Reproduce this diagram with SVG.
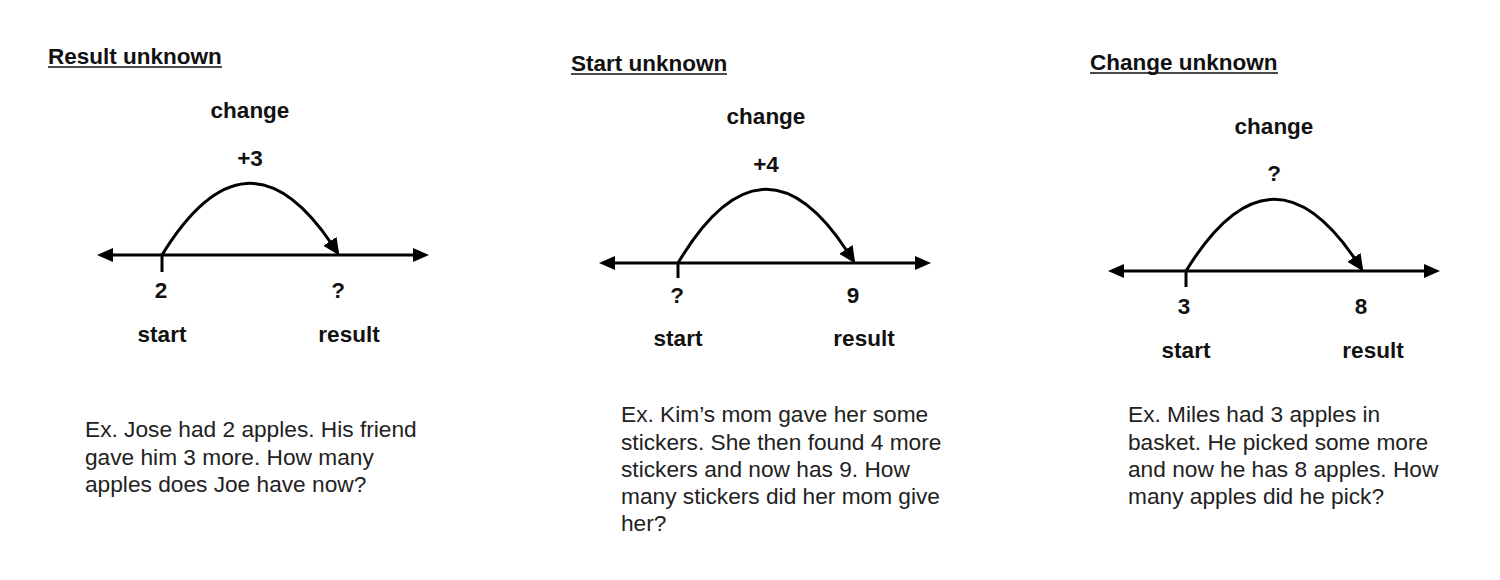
<svg xmlns="http://www.w3.org/2000/svg" width="1500" height="580" viewBox="0 0 1500 580">
<defs>
<style>
.title{font-family:"Liberation Sans",Arial,sans-serif;font-weight:bold;font-size:22.5px;fill:#111}
.lbl{font-family:"Liberation Sans",Arial,sans-serif;font-weight:bold;font-size:22.5px;fill:#111;text-anchor:middle}
.ex{font-family:"Liberation Sans",Arial,sans-serif;font-size:22.7px;fill:#222}
.ul{stroke:#111;stroke-width:1.6}
.axis{stroke:#000;stroke-width:3;fill:none;marker-start:url(#ah);marker-end:url(#ah)}
.tick{stroke:#000;stroke-width:3}
.arc{stroke:#000;stroke-width:3;fill:none;marker-end:url(#ah2)}
</style>
<marker id="ah" markerUnits="userSpaceOnUse" markerWidth="18" markerHeight="16" refX="2" refY="7" orient="auto-start-reverse">
<path d="M0,0 L16,7 L0,14 z" fill="#000"/>
</marker>
<marker id="ah2" markerUnits="userSpaceOnUse" markerWidth="20" markerHeight="18" refX="2" refY="8" orient="auto">
<path d="M0,0 L17,8 L0,16 z" fill="#000"/>
</marker>
</defs>
<rect width="1500" height="580" fill="#fff"/>

<g id="panel-result-unknown">
<text class="title" x="48" y="64">Result unknown</text>
<line class="ul" x1="48" y1="67" x2="222" y2="67"/>
<text class="lbl" x="250" y="118">change</text>
<text class="lbl" x="250" y="166">+3</text>
<text class="lbl" x="161" y="298">2</text>
<text class="lbl" x="338" y="298">?</text>
<text class="lbl" x="162" y="342">start</text>
<text class="lbl" x="349" y="342">result</text>
<text class="ex" x="85" y="437">Ex. Jose had 2 apples. His friend</text>
<text class="ex" x="85" y="465">gave him 3 more. How many</text>
<text class="ex" x="85" y="492">apples does Joe have now?</text>
</g>

<g id="panel-start-unknown">
<text class="title" x="571" y="71">Start unknown</text>
<line class="ul" x1="571" y1="74" x2="727" y2="74"/>
<text class="lbl" x="766" y="124">change</text>
<text class="lbl" x="766" y="172">+4</text>
<text class="lbl" x="677" y="303">?</text>
<text class="lbl" x="853" y="303">9</text>
<text class="lbl" x="678" y="346">start</text>
<text class="lbl" x="864" y="346">result</text>
<text class="ex" x="621" y="422">Ex. Kim’s mom gave her some</text>
<text class="ex" x="621" y="450">stickers. She then found 4 more</text>
<text class="ex" x="621" y="477">stickers and now has 9. How</text>
<text class="ex" x="621" y="504">many stickers did her mom give</text>
<text class="ex" x="621" y="531">her?</text>
</g>

<g id="panel-change-unknown">
<text class="title" x="1090" y="70">Change unknown</text>
<line class="ul" x1="1090" y1="73" x2="1278" y2="73"/>
<text class="lbl" x="1274" y="134">change</text>
<text class="lbl" x="1274" y="181">?</text>
<text class="lbl" x="1184" y="314">3</text>
<text class="lbl" x="1361" y="314">8</text>
<text class="lbl" x="1186" y="358">start</text>
<text class="lbl" x="1373" y="358">result</text>
<text class="ex" x="1128" y="422">Ex. Miles had 3 apples in</text>
<text class="ex" x="1128" y="450">basket. He picked some more</text>
<text class="ex" x="1128" y="477">and now he has 8 apples. How</text>
<text class="ex" x="1128" y="504">many apples did he pick?</text>
</g>

<g id="connectors">
<path class="axis" d="M111,255 L415,255"/>
<line class="tick" x1="162" y1="254" x2="162" y2="272"/>
<path class="arc" transform="translate(162,255)" d="M0,0 Q84,-137 169,-12"/>

<path class="axis" d="M613,263 L917,263"/>
<line class="tick" x1="678" y1="262" x2="678" y2="278"/>
<path class="arc" transform="translate(678,263)" d="M0,0 Q84,-141 169,-12"/>

<path class="axis" d="M1122,271 L1426,271"/>
<line class="tick" x1="1186" y1="270" x2="1186" y2="287"/>
<path class="arc" transform="translate(1186,271)" d="M0,0 Q84,-137 169,-12"/>
</g>
</svg>
